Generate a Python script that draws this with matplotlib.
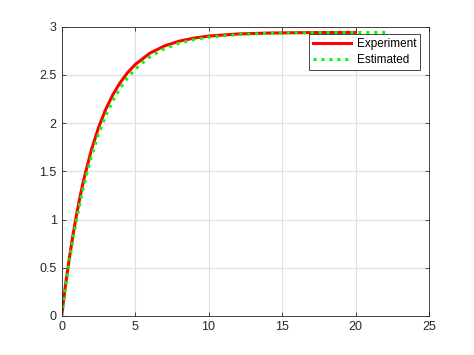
import matplotlib
matplotlib.use("Agg")
import matplotlib.pyplot as plt

# values
t_exp = [0, 0.25, 0.5, 0.75, 1, 1.25, 1.5, 2, 2.5, 3, 3.5, 4, 4.5, 5, 6, 7, 8, 9, 10,
         12, 14, 16, 18, 20]
y_exp = [0, 0.303, 0.574, 0.818, 1.037, 1.233, 1.408, 1.708, 1.949, 2.142, 2.298,
         2.423, 2.525, 2.606, 2.724, 2.800, 2.849, 2.881, 2.902, 2.924, 2.933,
         2.937, 2.939, 2.940]

t_est = [0, 0.25, 0.5, 0.75, 1, 1.25, 1.5, 2, 2.5, 3, 3.5, 4, 4.5, 5, 6, 7, 8, 9, 10,
         12, 14, 16, 18, 20, 22.3]
y_est = [0, 0.285, 0.544, 0.775, 0.985, 1.175, 1.346, 1.640, 1.880, 2.076, 2.236,
         2.366, 2.472, 2.558, 2.686, 2.771, 2.828, 2.865, 2.890, 2.918, 2.930,
         2.936, 2.938, 2.939, 2.940]

xticks = [0, 5, 10, 15, 20, 25]
yticks = [0, 0.5, 1, 1.5, 2, 2.5, 3]

plt.rcParams['font.family'] = ['Liberation Sans', 'DejaVu Sans']

fig = plt.figure(figsize=(4.74, 3.55), dpi=100)
ax = fig.add_axes([0.13, 0.11, 0.775, 0.815])

ax.plot(t_exp, y_exp, color='#ff0000', lw=2.2, label='Experiment')
ax.plot(t_est, y_est, color='#00ff00', lw=2.2, ls=(0, (1, 1.6)), label='Estimated')

ax.set_xlim(0, 25)
ax.set_ylim(0, 3)
ax.set_xticks(xticks)
ax.set_yticks(yticks)
ax.set_yticklabels(['0', '0.5', '1', '1.5', '2', '2.5', '3'])
ax.grid(True, color='#dfdfdf', lw=0.8)
ax.set_axisbelow(True)
ax.tick_params(direction='in', length=3, width=0.6, colors='#262626',
               labelsize=9, top=True, right=True)
for s in ax.spines.values():
    s.set_color('#262626')
    s.set_linewidth(0.6)

leg = ax.legend(loc='upper right', bbox_to_anchor=(0.976, 0.974), fontsize=8.5,
                fancybox=False, framealpha=1, edgecolor='#262626',
                borderpad=0.35, labelspacing=0.3, handlelength=3.2,
                handletextpad=0.5, borderaxespad=0)
leg.get_frame().set_linewidth(0.6)

fig.savefig('out.png', dpi=100)
